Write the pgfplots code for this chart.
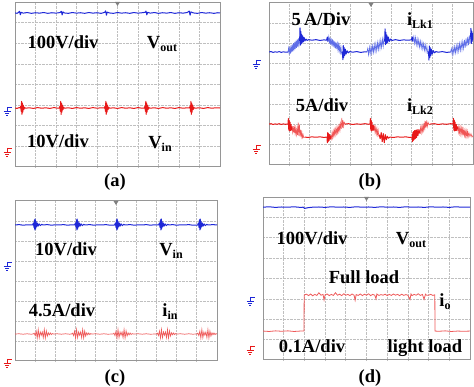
\documentclass[border=0pt]{standalone}
\usepackage{fontspec}
\setmainfont{Liberation Serif}
\usepackage{pgfplots}
\pgfplotsset{compat=1.18}
\definecolor{tblue}{RGB}{30,40,215}
\definecolor{lblue}{RGB}{95,110,232}
\definecolor{tred}{RGB}{232,25,25}
\definecolor{lred}{RGB}{240,85,85}
\definecolor{pred}{RGB}{238,90,90}
\definecolor{frm}{RGB}{150,150,150}
\pgfplotsset{osc/.style={scale only axis, anchor=south west, xmin=0, xmax=10, ymin=0, ymax=8,
  xtick={1,2,...,9}, ytick={1,2,...,7}, xticklabels={}, yticklabels={}, major tick length=0pt,
  grid=major, major grid style={densely dotted, gray!50, line width=0.7pt},
  axis line style={frm, line width=1pt}, unbounded coords=jump, clip=true},
  dk/.style={mark=none, line width=1pt, line join=round},
  lt/.style={mark=none, line width=0.6pt}}
\newcommand\sub[1]{\raisebox{-0.35ex}{\fontsize{12}{12}\selectfont #1}}
\newcommand\gnd[3]{\draw[#3, line width=0.8pt] (#1pt,#2pt) -- ++(5pt,0pt) (#1pt,#2pt) -- ++(0pt,-4pt) ++(-3.5pt,0pt) -- ++(7pt,0pt) ++(-1.5pt,-2pt) -- ++(-4pt,0pt) ++(1pt,-2pt) -- ++(2pt,0pt);}
\newcommand\trig[2]{\fill[gray] (#1pt-2.5pt,#2pt) -- (#1pt+2.5pt,#2pt) -- (#1pt,#2pt-4pt) -- cycle;}
\tikzset{lab/.style={font=\fontsize{18.5}{20}\selectfont\bfseries, inner sep=0pt, anchor=base}}
\begin{document}
\begin{tikzpicture}[x=1pt,y=1pt]
\useasboundingbox (0,0) rectangle (474,387);
% ---------------- (a)
\begin{axis}[osc, at={(15pt,220pt)}, width=205pt, height=165pt]
\addplot[dk, tblue] coordinates {(0,7.47)(0.1,7.45)(0.18,7.5)(0.22,7.55)(0.26,7.38)(0.3,7.5)(0.4,7.46)(0.6,7.49)(0.8,7.45)(1.0,7.48)(1.2,7.46)(1.4,7.49)(1.6,7.45)(1.8,7.48)(2.0,7.46)(2.2,7.49)(2.26,7.55)(2.3,7.37)(2.34,7.52)(2.4,7.47)(2.6,7.45)(2.8,7.49)(3.0,7.46)(3.2,7.48)(3.4,7.45)(3.6,7.49)(3.8,7.46)(4.0,7.48)(4.2,7.45)(4.38,7.5)(4.42,7.57)(4.46,7.36)(4.5,7.51)(4.6,7.47)(4.8,7.45)(5.0,7.49)(5.2,7.46)(5.4,7.48)(5.6,7.45)(5.8,7.49)(6.0,7.46)(6.2,7.48)(6.35,7.5)(6.39,7.56)(6.43,7.38)(6.47,7.5)(6.6,7.46)(6.8,7.49)(7.0,7.45)(7.2,7.48)(7.4,7.46)(7.6,7.49)(7.8,7.45)(8.0,7.48)(8.2,7.46)(8.4,7.49)(8.5,7.56)(8.54,7.36)(8.58,7.52)(8.7,7.47)(8.9,7.45)(9.1,7.49)(9.3,7.46)(9.5,7.48)(9.7,7.45)(9.9,7.48)(10,7.47)};
\addplot[dk, tred] coordinates {(0,2.86)(0.1,2.84)(0.2,2.88)(0.25,2.86)(0.28,2.95)(0.30,2.7)(0.32,3.18)(0.34,2.55)(0.36,3.1)(0.38,2.66)(0.40,3.0)(0.43,2.78)(0.46,2.9)(0.50,2.85)(0.7,2.87)(0.9,2.84)(1.1,2.88)(1.3,2.85)(1.5,2.87)(1.7,2.84)(1.9,2.88)(2.1,2.85)(2.16,2.86)(2.19,2.95)(2.21,2.7)(2.23,3.18)(2.25,2.55)(2.27,3.1)(2.29,2.66)(2.31,3.0)(2.34,2.78)(2.37,2.9)(2.41,2.85)(2.6,2.87)(2.8,2.84)(3.0,2.88)(3.2,2.85)(3.4,2.87)(3.6,2.84)(3.8,2.88)(4.0,2.85)(4.2,2.87)(4.36,2.86)(4.39,2.95)(4.41,2.7)(4.43,3.18)(4.45,2.55)(4.47,3.1)(4.49,2.66)(4.51,3.0)(4.54,2.78)(4.57,2.9)(4.61,2.85)(4.8,2.87)(5.0,2.84)(5.2,2.88)(5.4,2.85)(5.6,2.87)(5.8,2.84)(6.0,2.88)(6.2,2.85)(6.31,2.86)(6.34,2.95)(6.36,2.7)(6.38,3.18)(6.40,2.55)(6.42,3.1)(6.44,2.66)(6.46,3.0)(6.49,2.78)(6.52,2.9)(6.56,2.85)(6.8,2.87)(7.0,2.84)(7.2,2.88)(7.4,2.85)(7.6,2.87)(7.8,2.84)(8.0,2.88)(8.2,2.85)(8.4,2.87)(8.51,2.86)(8.54,2.95)(8.56,2.7)(8.58,3.18)(8.60,2.55)(8.62,3.1)(8.64,2.66)(8.66,3.0)(8.69,2.78)(8.72,2.9)(8.76,2.85)(9.0,2.87)(9.2,2.84)(9.4,2.88)(9.6,2.85)(9.8,2.87)(10,2.86)};
\end{axis}
% ---------------- (b)
\begin{axis}[osc, at={(269pt,222pt)}, width=204pt, height=162pt]
\addplot[lt, lblue] coordinates {(0.93,5.58)(0.96,5.78)(0.99,5.45)(1.02,5.84)(1.05,5.5)(1.08,5.9)(1.11,5.56)(1.14,5.96)(1.17,5.6)(1.20,6.02)(1.23,5.66)(1.26,6.08)(1.29,5.72)(1.32,6.14)(1.35,5.78)(1.38,6.2)(1.41,5.84)(1.44,6.26)(1.47,5.9)(1.50,6.1)(1.505,nan)
(2.9,6.17)(2.93,6.35)(2.96,6.0)(2.99,6.3)(3.02,5.95)(3.05,6.25)(3.08,5.9)(3.11,6.2)(3.14,5.85)(3.17,6.15)(3.2,5.8)(3.23,6.1)(3.26,5.76)(3.29,6.05)(3.32,5.72)(3.35,6.0)(3.38,5.68)(3.41,5.95)(3.44,5.62)(3.47,5.88)(3.5,5.55)(3.53,5.8)(3.56,5.5)(3.6,5.6)(3.605,nan)
(4.8,5.58)(4.84,5.76)(4.88,5.44)(4.92,5.82)(4.96,5.48)(5.0,5.86)(5.04,5.52)(5.08,5.9)(5.12,5.56)(5.16,5.95)(5.2,5.6)(5.24,6.0)(5.28,5.64)(5.32,6.05)(5.36,5.7)(5.4,6.1)(5.44,5.75)(5.48,6.16)(5.52,5.8)(5.56,6.22)(5.6,5.86)(5.64,6.28)(5.67,6.1)(5.675,nan)
(7.06,6.17)(7.1,6.36)(7.14,6.0)(7.18,6.3)(7.22,5.94)(7.26,6.24)(7.3,5.88)(7.34,6.18)(7.38,5.82)(7.42,6.12)(7.46,5.77)(7.5,6.06)(7.54,5.72)(7.58,6.0)(7.62,5.66)(7.66,5.94)(7.7,5.6)(7.74,5.86)(7.78,5.52)(7.82,5.6)(7.825,nan)
(8.9,5.58)(8.94,5.75)(8.98,5.45)(9.02,5.8)(9.06,5.5)(9.1,5.85)(9.14,5.54)(9.18,5.9)(9.22,5.58)(9.26,5.95)(9.3,5.62)(9.34,6.0)(9.38,5.66)(9.42,6.05)(9.46,5.7)(9.5,6.1)(9.54,5.75)(9.58,6.18)(9.62,5.8)(9.66,6.25)(9.7,5.86)(9.74,6.32)(9.78,5.92)(9.82,6.4)(9.86,6.0)(9.88,6.3)};
\addplot[dk, tblue] coordinates {(0,5.58)(0.1,5.6)(0.2,5.56)(0.3,5.59)(0.4,5.57)(0.5,5.6)(0.6,5.56)(0.7,5.59)(0.8,5.57)(0.93,5.58)(0.94,nan)
(1.50,6.1)(1.52,6.77)(1.54,5.92)(1.56,6.6)(1.58,5.98)(1.60,6.45)(1.62,6.02)(1.65,6.38)(1.68,6.08)(1.72,6.3)(1.76,6.12)(1.81,6.22)(1.87,6.15)(1.95,6.19)(2.1,6.16)(2.3,6.19)(2.5,6.15)(2.7,6.18)(2.82,6.16)(2.86,6.32)(2.89,6.1)(2.9,6.17)(2.91,nan)
(3.60,5.6)(3.62,5.2)(3.64,5.9)(3.66,5.3)(3.68,5.8)(3.71,5.4)(3.74,5.72)(3.78,5.48)(3.83,5.64)(3.89,5.54)(3.96,5.6)(4.1,5.57)(4.3,5.6)(4.5,5.56)(4.7,5.59)(4.8,5.58)(4.81,nan)
(5.67,6.1)(5.69,6.72)(5.71,5.94)(5.73,6.55)(5.75,6.0)(5.78,6.42)(5.81,6.05)(5.85,6.32)(5.9,6.1)(5.96,6.22)(6.03,6.15)(6.2,6.19)(6.4,6.15)(6.6,6.18)(6.8,6.16)(6.98,6.18)(7.02,6.33)(7.05,6.1)(7.06,6.17)(7.07,nan)
(7.82,5.6)(7.84,5.18)(7.86,5.88)(7.88,5.3)(7.9,5.8)(7.93,5.4)(7.96,5.72)(8.0,5.48)(8.05,5.65)(8.11,5.54)(8.18,5.6)(8.3,5.57)(8.5,5.6)(8.7,5.56)(8.9,5.58)(8.91,nan)
(9.88,6.3)(9.9,6.75)(9.92,6.0)(9.94,6.6)(9.96,6.1)(9.98,6.5)(10,6.2)};
\addplot[lt, lred] coordinates {(1.13,1.9)(1.16,1.62)(1.19,1.92)(1.22,1.58)(1.25,1.86)(1.28,1.55)(1.31,1.82)(1.34,1.5)(1.37,1.78)(1.40,1.48)(1.43,2.1)(1.46,1.45)(1.49,2.0)(1.52,1.42)(1.55,1.75)(1.58,1.4)(1.61,1.62)(1.64,1.36)(1.67,1.5)(1.7,1.35)(1.76,1.38)(1.77,nan)
(3.03,1.45)(3.06,1.3)(3.09,1.6)(3.12,1.35)(3.15,1.66)(3.18,1.42)(3.21,1.72)(3.24,1.48)(3.27,1.78)(3.3,1.55)(3.33,1.85)(3.36,1.6)(3.39,1.9)(3.42,1.66)(3.45,1.95)(3.48,1.72)(3.51,2.05)(3.54,1.78)(3.57,2.32)(3.6,1.85)(3.63,2.2)(3.66,1.9)(3.69,2.1)(3.73,2.02)(3.74,nan)
(5.14,1.7)(5.17,1.9)(5.2,1.6)(5.23,1.85)(5.26,1.55)(5.29,1.8)(5.32,1.5)(5.35,1.72)(5.38,1.45)(5.4,1.5)(5.41,nan)
(7.4,1.55)(7.43,1.85)(7.46,1.6)(7.49,1.9)(7.52,1.66)(7.55,1.95)(7.58,1.72)(7.61,2.05)(7.64,1.8)(7.67,2.15)(7.7,1.85)(7.73,2.2)(7.76,1.9)(7.8,2.1)(7.85,1.98)(7.89,2.02)(7.9,nan)
(9.25,1.9)(9.28,1.62)(9.31,1.9)(9.34,1.58)(9.37,1.86)(9.4,1.54)(9.43,1.82)(9.46,1.5)(9.49,1.78)(9.52,1.46)(9.55,1.75)(9.58,1.45)(9.61,1.72)(9.64,1.42)(9.67,1.68)(9.7,1.4)(9.73,1.65)(9.76,1.38)(9.8,1.6)(9.85,1.4)(9.9,1.55)(9.95,1.38)(10,1.45)};
\addplot[dk, tred] coordinates {(0,2.02)(0.1,2.04)(0.2,2.0)(0.3,2.03)(0.4,2.01)(0.5,2.04)(0.6,2.0)(0.7,2.03)(0.8,2.01)(0.9,2.02)(0.93,2.02)(0.95,2.3)(0.97,1.72)(0.99,2.22)(1.01,1.68)(1.03,2.12)(1.05,1.7)(1.08,2.0)(1.1,1.72)(1.13,1.9)(1.14,nan)
(1.76,1.38)(1.9,1.36)(2.1,1.39)(2.3,1.37)(2.5,1.39)(2.7,1.36)(2.84,1.38)(2.86,1.1)(2.88,1.6)(2.9,1.15)(2.92,1.55)(2.94,1.2)(2.97,1.5)(3.0,1.28)(3.03,1.45)(3.04,nan)
(3.73,2.02)(3.9,2.04)(4.1,2.0)(4.3,2.03)(4.5,2.01)(4.7,2.04)(4.9,2.01)(4.95,2.02)(4.97,2.3)(4.99,1.72)(5.01,2.22)(5.03,1.68)(5.05,2.1)(5.08,1.72)(5.11,1.95)(5.14,1.7)(5.15,nan)
(5.4,1.5)(5.45,1.3)(5.5,1.6)(5.55,1.15)(5.6,1.55)(5.65,1.1)(5.7,1.5)(5.75,1.25)(5.8,1.42)(5.85,1.32)(5.93,1.38)(6.1,1.36)(6.3,1.39)(6.5,1.37)(6.7,1.39)(6.9,1.36)(7.01,1.38)(7.03,1.15)(7.05,1.6)(7.07,1.2)(7.09,1.65)(7.11,1.25)(7.14,1.7)(7.17,1.3)(7.2,1.72)(7.23,1.35)(7.26,1.75)(7.3,1.45)(7.35,1.75)(7.4,1.55)(7.41,nan)
(7.89,2.02)(8.1,2.04)(8.3,2.0)(8.5,2.03)(8.7,2.01)(8.9,2.04)(9.02,2.02)(9.04,2.3)(9.06,1.72)(9.08,2.22)(9.1,1.68)(9.12,2.12)(9.15,1.7)(9.18,2.0)(9.21,1.7)(9.25,1.9)};
\end{axis}
% ---------------- (c)
\begin{axis}[osc, at={(15pt,26pt)}, width=202pt, height=160pt]
\addplot[dk, tblue] coordinates {(0,6.8)(0.2,6.82)(0.4,6.79)(0.6,6.81)(0.8,6.8)(0.87,6.8)(0.91,6.9)(0.94,6.68)(0.96,7.05)(0.98,6.55)(1.0,7.1)(1.02,6.6)(1.04,6.98)(1.07,6.7)(1.10,6.9)(1.14,6.74)(1.19,6.86)(1.25,6.77)(1.32,6.83)(1.39,6.8)(1.6,6.82)(1.8,6.79)(2.0,6.81)(2.2,6.8)(2.4,6.82)(2.6,6.79)(2.8,6.81)(2.95,6.8)(2.99,6.9)(3.02,6.68)(3.04,7.05)(3.06,6.55)(3.08,7.1)(3.10,6.6)(3.12,6.98)(3.15,6.7)(3.18,6.9)(3.22,6.74)(3.27,6.86)(3.33,6.77)(3.40,6.83)(3.47,6.8)(3.7,6.82)(3.9,6.79)(4.1,6.81)(4.3,6.8)(4.5,6.82)(4.7,6.79)(4.93,6.8)(4.97,6.9)(5.0,6.68)(5.02,7.05)(5.04,6.55)(5.06,7.1)(5.08,6.6)(5.10,6.98)(5.13,6.7)(5.16,6.9)(5.2,6.74)(5.25,6.86)(5.31,6.77)(5.38,6.83)(5.45,6.8)(5.7,6.82)(5.9,6.79)(6.1,6.81)(6.3,6.8)(6.5,6.82)(6.7,6.79)(6.9,6.81)(7.11,6.8)(7.15,6.9)(7.18,6.68)(7.2,7.05)(7.22,6.55)(7.24,7.1)(7.26,6.6)(7.28,6.98)(7.31,6.7)(7.34,6.9)(7.38,6.74)(7.43,6.86)(7.49,6.77)(7.56,6.83)(7.63,6.8)(7.8,6.82)(8.0,6.79)(8.2,6.81)(8.4,6.8)(8.6,6.82)(8.8,6.79)(9.04,6.8)(9.08,6.9)(9.11,6.68)(9.13,7.05)(9.15,6.55)(9.17,7.1)(9.19,6.6)(9.21,6.98)(9.24,6.7)(9.27,6.9)(9.31,6.74)(9.36,6.86)(9.42,6.77)(9.49,6.83)(9.56,6.8)(9.8,6.82)(10,6.8)};
\addplot[mark=none, line width=0.7pt, pred] coordinates {(0,1.35)(0.2,1.36)(0.4,1.34)(0.6,1.36)(0.8,1.34)(0.9,1.35)(0.95,1.39)(1.0,1.27)(1.05,1.49)(1.1,1.15)(1.15,1.57)(1.2,1.17)(1.25,1.45)(1.3,1.29)(1.35,1.45)(1.4,1.17)(1.45,1.57)(1.5,1.15)(1.55,1.5)(1.6,1.25)(1.65,1.41)(1.7,1.31)(1.75,1.4)(1.8,1.32)(1.85,1.37)(1.9,1.35)(2.1,1.36)(2.3,1.34)(2.5,1.36)(2.7,1.34)(2.8,1.35)(2.85,1.39)(2.9,1.27)(2.95,1.49)(3.0,1.15)(3.05,1.57)(3.1,1.17)(3.15,1.45)(3.2,1.29)(3.25,1.45)(3.3,1.17)(3.35,1.57)(3.4,1.15)(3.45,1.5)(3.5,1.25)(3.55,1.41)(3.6,1.31)(3.65,1.4)(3.7,1.32)(3.75,1.37)(3.8,1.35)(4.0,1.36)(4.2,1.34)(4.4,1.36)(4.6,1.34)(4.85,1.35)(4.9,1.39)(4.95,1.27)(5.0,1.49)(5.05,1.15)(5.1,1.57)(5.15,1.17)(5.2,1.45)(5.25,1.29)(5.3,1.45)(5.35,1.17)(5.4,1.57)(5.45,1.15)(5.5,1.5)(5.55,1.25)(5.6,1.41)(5.65,1.31)(5.7,1.4)(5.75,1.32)(5.8,1.37)(5.85,1.35)(6.1,1.36)(6.3,1.34)(6.5,1.36)(6.7,1.34)(7.0,1.35)(7.05,1.39)(7.1,1.27)(7.15,1.49)(7.2,1.15)(7.25,1.57)(7.3,1.17)(7.35,1.45)(7.4,1.29)(7.45,1.45)(7.5,1.17)(7.55,1.57)(7.6,1.15)(7.65,1.5)(7.7,1.25)(7.75,1.41)(7.8,1.31)(7.85,1.4)(7.9,1.32)(7.95,1.37)(8.0,1.35)(8.2,1.36)(8.4,1.34)(8.6,1.36)(8.8,1.34)(9.0,1.35)(9.05,1.39)(9.1,1.27)(9.15,1.49)(9.2,1.15)(9.25,1.57)(9.3,1.17)(9.35,1.45)(9.4,1.29)(9.45,1.45)(9.5,1.17)(9.55,1.57)(9.6,1.15)(9.65,1.5)(9.7,1.25)(9.75,1.41)(9.8,1.31)(9.85,1.4)(9.9,1.32)(9.95,1.37)(10,1.35)};
\end{axis}
% ---------------- (d)
\begin{axis}[osc, at={(263pt,27pt)}, width=207pt, height=163pt]
\addplot[dk, tblue] coordinates {(0,7.5)(0.3,7.52)(0.6,7.49)(0.9,7.51)(1.2,7.5)(1.5,7.52)(1.8,7.49)(1.95,7.5)(2.0,7.44)(2.1,7.46)(2.2,7.48)(2.4,7.5)(2.7,7.51)(3.0,7.49)(3.3,7.52)(3.6,7.5)(3.9,7.51)(4.2,7.49)(4.5,7.52)(4.8,7.5)(5.1,7.51)(5.4,7.49)(5.7,7.52)(6.0,7.5)(6.3,7.51)(6.6,7.49)(6.9,7.52)(7.2,7.5)(7.5,7.51)(7.8,7.49)(8.1,7.52)(8.4,7.5)(8.7,7.51)(9.0,7.49)(9.3,7.52)(9.6,7.5)(10,7.5)};
\addplot[mark=none, line width=0.8pt, pred] coordinates {(0,1.42)(0.3,1.40)(0.6,1.43)(0.9,1.41)(1.2,1.43)(1.5,1.40)(1.8,1.42)(1.98,1.42)(1.99,3.19)(2.1,3.23)(2.2,3.16)(2.3,3.24)(2.4,3.15)(2.5,3.22)(2.6,3.17)(2.7,3.3)(2.8,3.18)(2.9,3.22)(2.95,2.95)(3.0,3.2)(3.1,3.24)(3.2,3.16)(3.3,3.22)(3.4,3.17)(3.5,3.3)(3.6,3.18)(3.7,3.23)(3.8,3.16)(3.9,3.25)(4.0,3.18)(4.1,3.22)(4.2,3.16)(4.3,3.24)(4.4,3.18)(4.45,2.93)(4.5,3.21)(4.6,3.17)(4.7,3.24)(4.8,3.16)(4.9,3.23)(5.0,3.18)(5.1,3.25)(5.2,3.16)(5.3,3.22)(5.4,3.18)(5.46,3.0)(5.5,3.24)(5.6,3.17)(5.7,3.21)(5.8,3.18)(5.9,3.23)(6.0,3.16)(6.1,3.22)(6.2,3.17)(6.3,3.24)(6.4,3.18)(6.5,3.22)(6.6,3.16)(6.7,3.23)(6.8,3.17)(6.9,3.21)(7.0,3.18)(7.1,2.97)(7.15,3.24)(7.2,3.16)(7.3,3.22)(7.4,3.18)(7.5,3.25)(7.6,3.17)(7.7,3.22)(7.78,2.98)(7.85,3.23)(7.9,3.18)(8.0,3.18)(8.1,3.22)(8.2,3.17)(8.3,3.2)(8.31,1.42)(8.5,1.41)(8.8,1.43)(9.1,1.4)(9.4,1.42)(9.7,1.41)(10,1.42)};
\end{axis}
% ---------------- labels
\node[lab] at (63,338) {100V/div};
\node[lab] at (162,338) {V\sub{out}};
\node[lab] at (58,239) {10V/div};
\node[lab] at (160,238) {V\sub{in}};
\node[lab] at (115,200) {(a)};
\node[lab] at (321,361) {5\,A/Div};
\node[lab] at (420,361) {i\sub{Lk1}};
\node[lab] at (322,275) {5A/div};
\node[lab] at (420,275) {i\sub{Lk2}};
\node[lab] at (370,200) {(b)};
\node[lab] at (66,131) {10V/div};
\node[lab] at (171,131) {V\sub{in}};
\node[lab] at (62,70) {4.5A/div};
\node[lab] at (170,70) {i\sub{in}};
\node[lab] at (115,4.5) {(c)};
\node[lab] at (312,142) {100V/div};
\node[lab] at (411,142) {V\sub{out}};
\node[lab] at (364,103) {Full load};
\node[lab] at (445,80) {i\sub{o}};
\node[lab] at (312,34) {0.1A/div};
\node[lab] at (425,34) {light load};
\node[lab] at (370,4.5) {(d)};
% ground markers
\gnd{7}{280}{tblue}
\gnd{7}{239}{tred}
\gnd{256}{327}{tblue}
\gnd{256}{242}{tred}
\gnd{7}{125}{tblue}
\gnd{7}{28}{tred}
\gnd{250}{90}{tblue}
\gnd{250}{41}{tred}
% trigger markers
\trig{117.5}{385}
\trig{371}{384}
\trig{116}{186}
\trig{366.5}{190}
\end{tikzpicture}
\end{document}
